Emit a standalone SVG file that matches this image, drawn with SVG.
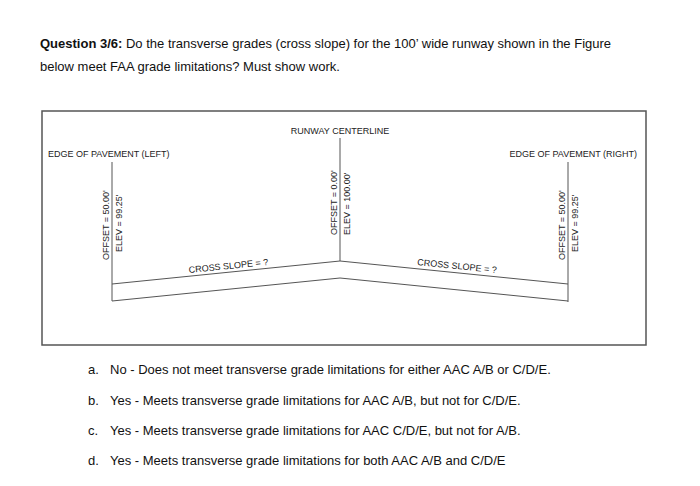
<svg xmlns="http://www.w3.org/2000/svg" width="700" height="486" viewBox="0 0 700 486">
<style>
.q{font-family:"Liberation Sans",Arial,sans-serif;font-size:13px;fill:#111}
.d{font-family:"Liberation Sans",Arial,sans-serif;font-size:9px;fill:#222}
.l{stroke:#555;stroke-width:1;fill:none}
</style>
<rect width="700" height="486" fill="#fff"/>
<text class="q" x="40" y="48"><tspan font-weight="bold">Question 3/6:</tspan> Do the transverse grades (cross slope) for the 100’ wide runway shown in the Figure</text>
<text class="q" x="40" y="71">below meet FAA grade limitations? Must show work.</text>
<rect x="42" y="111" width="604" height="234" fill="#fff" stroke="#555" stroke-width="1.5"/>
<g id="connectors">
<path class="l" d="M112,162V301M340,138V261M568,162V302M112,284L340,261L568,284M112,301L340,278L568,301"/>
</g>
<g id="centerline">
<text class="d" x="340" y="134" text-anchor="middle">RUNWAY CENTERLINE</text>
<text class="d" transform="translate(337,235) rotate(-90)">OFFSET = 0.00'</text>
<text class="d" transform="translate(350,235) rotate(-90)">ELEV = 100.00'</text>
</g>
<g id="left-edge">
<text class="d" x="48" y="157">EDGE OF PAVEMENT (LEFT)</text>
<text class="d" transform="translate(109,260) rotate(-90)">OFFSET = 50.00'</text>
<text class="d" transform="translate(122,252) rotate(-90)">ELEV = 99.25'</text>
<text class="d" transform="translate(189,273) rotate(-5.8)">CROSS SLOPE = ?</text>
</g>
<g id="right-edge">
<text class="d" x="637" y="157" text-anchor="end">EDGE OF PAVEMENT (RIGHT)</text>
<text class="d" transform="translate(565,260) rotate(-90)">OFFSET = 50.00'</text>
<text class="d" transform="translate(578,252) rotate(-90)">ELEV = 99.25'</text>
<text class="d" transform="translate(417,265) rotate(5.8)">CROSS SLOPE = ?</text>
</g>
<g id="answers">
<text class="q" x="88" y="374">a.</text><text class="q" x="110" y="374">No - Does not meet transverse grade limitations for either AAC A/B or C/D/E.</text>
<text class="q" x="88" y="405">b.</text><text class="q" x="110" y="405">Yes - Meets transverse grade limitations for AAC A/B, but not for C/D/E.</text>
<text class="q" x="88" y="435">c.</text><text class="q" x="110" y="435">Yes - Meets transverse grade limitations for AAC C/D/E, but not for A/B.</text>
<text class="q" x="88" y="465">d.</text><text class="q" x="110" y="465">Yes - Meets transverse grade limitations for both AAC A/B and C/D/E</text>
</g>
</svg>
